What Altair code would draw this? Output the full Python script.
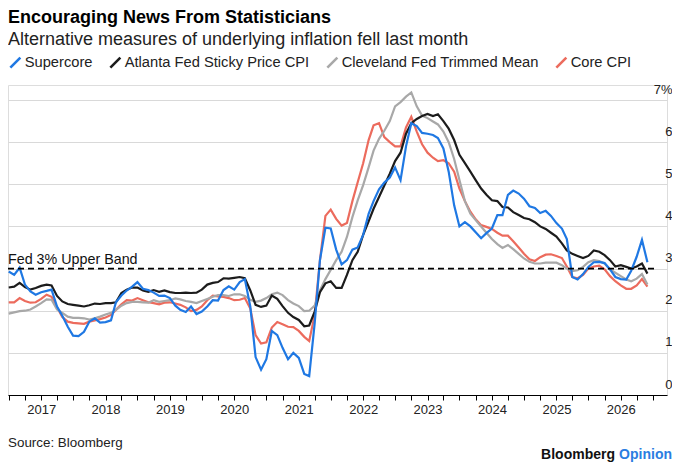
import altair as alt
import pandas as pd

FONT = "Liberation Sans, Arial, sans-serif"

# ---------------- data ----------------
series_names = ["Supercore", "Atlanta Fed Sticky Price CPI",
                "Cleveland Fed Trimmed Mean", "Core CPI"]
series_colors = ["#1f78e3", "#1c1c1c", "#a8a8a8", "#ec6b5d"]
draw_order = ["Core CPI", "Cleveland Fed Trimmed Mean",
              "Atlanta Fed Sticky Price CPI", "Supercore"]

first_month = "2016-07-01"   # monthly observations, Jul 2016 .. Jun 2026

supercore = [
    2.93, 2.85, 3.02, 2.62, 2.46, 2.38, 2.44, 2.47, 2.50, 2.10,
    1.88, 1.62, 1.41, 1.40, 1.50, 1.74, 1.82, 1.72, 1.73, 1.77,
    2.20, 2.36, 2.48, 2.57, 2.68, 2.52, 2.49, 2.43, 2.35, 2.36,
    2.30, 2.12, 2.02, 1.97, 2.10, 1.92, 1.98, 2.10, 2.25, 2.24,
    2.49, 2.58, 2.50, 2.68, 2.75, 2.10, 0.90, 0.60, 0.85, 1.52,
    1.42, 1.12, 0.85, 1.00, 0.88, 0.50, 0.45, 1.70, 3.20, 3.97,
    3.95, 3.45, 3.10, 3.20, 3.45, 3.50, 3.80, 4.30, 4.60, 4.88,
    5.04, 5.16, 5.40, 5.10, 5.90, 6.45, 6.38, 6.22, 6.20, 6.17,
    6.10, 5.85, 5.30, 4.50, 4.00, 4.10, 4.00, 3.86, 3.72, 3.84,
    3.95, 4.27, 4.27, 4.75, 4.85, 4.78, 4.66, 4.48, 4.44, 4.32,
    4.37, 4.25, 4.08, 3.95, 3.70, 2.80, 2.74, 2.87, 3.04, 3.15,
    3.16, 3.13, 2.98, 2.80, 2.75, 2.74, 2.95, 3.28, 3.68, 3.15,
]
atlanta = [
    2.55, 2.57, 2.66, 2.56, 2.50, 2.54, 2.59, 2.62, 2.60, 2.35,
    2.22, 2.16, 2.14, 2.12, 2.10, 2.13, 2.17, 2.16, 2.18, 2.18,
    2.20, 2.42, 2.50, 2.55, 2.55, 2.48, 2.45, 2.49, 2.45, 2.48,
    2.44, 2.42, 2.42, 2.43, 2.42, 2.43, 2.50, 2.62, 2.66, 2.68,
    2.77, 2.76, 2.78, 2.80, 2.77, 2.48, 2.14, 2.09, 2.12, 2.36,
    2.28, 2.11, 1.95, 1.85, 1.78, 1.63, 1.65, 1.98, 2.44, 2.65,
    2.70, 2.54, 2.54, 2.85, 3.20, 3.40, 3.80, 4.12, 4.42, 4.70,
    4.97, 5.25, 5.55, 5.75, 6.20, 6.45, 6.55, 6.62, 6.67, 6.62,
    6.66, 6.50, 6.32, 6.05, 5.70, 5.50, 5.30, 5.10, 4.90, 4.75,
    4.62, 4.60, 4.46, 4.45, 4.34, 4.27, 4.20, 4.17, 4.10, 4.00,
    3.94, 3.85, 3.76, 3.60, 3.43, 3.35, 3.30, 3.25, 3.30, 3.43,
    3.40, 3.32, 3.20, 3.05, 3.08, 3.04, 3.00, 3.05, 3.12, 2.88,
]
cleveland = [
    1.93, 1.96, 1.99, 2.00, 2.03, 2.10, 2.18, 2.27, 2.26, 2.03,
    1.95, 1.86, 1.83, 1.83, 1.82, 1.79, 1.82, 1.86, 1.91, 1.95,
    2.02, 2.12, 2.18, 2.21, 2.21, 2.20, 2.19, 2.25, 2.21, 2.23,
    2.25, 2.29, 2.27, 2.23, 2.21, 2.18, 2.23, 2.28, 2.33, 2.37,
    2.37, 2.35, 2.39, 2.39, 2.35, 2.26, 2.21, 2.24, 2.30, 2.39,
    2.43, 2.37, 2.25, 2.17, 2.11, 1.99, 2.00, 2.12, 2.48, 2.75,
    2.97, 3.20, 3.40, 3.75, 4.22, 4.62, 4.98, 5.40, 5.80, 6.08,
    6.27, 6.50, 6.85, 6.95, 7.08, 7.18, 6.85, 6.63, 6.57, 6.49,
    6.42, 6.25, 6.00, 5.60, 5.10, 4.60, 4.30, 4.15, 4.00, 3.85,
    3.70, 3.58, 3.49, 3.56, 3.46, 3.35, 3.24, 3.16, 3.12, 3.12,
    3.14, 3.14, 3.14, 3.08, 3.00, 2.94, 2.96, 3.04, 3.15, 3.20,
    3.18, 3.12, 2.98, 2.90, 2.82, 2.74, 2.70, 2.76, 2.87, 2.62,
]
core_cpi = [
    2.20, 2.20, 2.30, 2.23, 2.19, 2.20, 2.28, 2.38, 2.33, 2.08,
    1.85, 1.74, 1.71, 1.70, 1.69, 1.74, 1.77, 1.80, 1.84, 1.90,
    2.02, 2.15, 2.25, 2.24, 2.30, 2.25, 2.20, 2.18, 2.15, 2.19,
    2.20, 2.17, 2.14, 2.08, 1.99, 2.02, 2.10, 2.25, 2.36, 2.34,
    2.33, 2.30, 2.25, 2.26, 2.30, 2.05, 1.42, 1.22, 1.25, 1.60,
    1.73, 1.68, 1.62, 1.61, 1.52, 1.38, 1.28, 1.90, 3.20, 4.25,
    4.40, 4.18, 4.02, 4.08, 4.60, 5.05, 5.50, 6.05, 6.40, 6.45,
    6.12, 6.00, 5.90, 5.90, 6.35, 6.60, 6.25, 5.95, 5.75, 5.63,
    5.55, 5.57, 5.50, 5.30, 4.90, 4.60, 4.35, 4.17, 4.03, 3.99,
    3.94, 3.85, 3.78, 3.78, 3.65, 3.50, 3.35, 3.22, 3.18, 3.27,
    3.33, 3.34, 3.30, 3.25, 3.05, 2.80, 2.77, 2.85, 3.00, 3.05,
    3.07, 2.98, 2.82, 2.70, 2.60, 2.52, 2.52, 2.60, 2.75, 2.57,
]

band_value = [3]
band_label = ["Fed 3% Upper Band"]
band_start = ["2016-06-27"]
band_end = ["2026-07-15"]

x_domain = ["2016-06-27", "2026-09-20"]
first_tick, last_tick = "2016-07-01", "2026-07-01"   # quarterly ticks
y_ticks = [0, 1, 2, 3, 4, 5, 6, 7]
title_text = "Encouraging News From Statisticians"
subtitle_text = "Alternative measures of underlying inflation fell last month"
source_text = ["Source: Bloomberg"]
brand_text = ["Bloomberg"]
brand_text2 = ["Opinion"]

# ---------------- tables ----------------
dates = pd.date_range(first_month, periods=len(supercore), freq="MS").strftime("%Y-%m-%d").tolist()
values = {"Supercore": supercore, "Atlanta Fed Sticky Price CPI": atlanta,
          "Cleveland Fed Trimmed Mean": cleveland, "Core CPI": core_cpi}
df = pd.DataFrame({
    "date": dates * 4,
    "series": [n for n in series_names for _ in dates],
    "value": [v for n in series_names for v in values[n]],
})
band_df = pd.DataFrame({"start": band_start, "end": band_end,
                        "value": band_value, "label": band_label})


def ms(s):
    return int(pd.Timestamp(s, tz="UTC").value // 10**6)


quarter_ticks = [ms(d) for d in pd.date_range(first_tick, last_tick, freq="QS-JAN")]

x_scale = alt.Scale(domain=[ms(x_domain[0]), ms(x_domain[1])], nice=False)
y_scale = alt.Scale(domain=[0, 7.356], nice=False)

x_axis = alt.Axis(
    values=quarter_ticks, title=None, grid=False,
    labelExpr="utcmonth(datum.value) == 0 ? utcFormat(datum.value, '%Y') : ''",
    labelOverlap=False, labelFlush=False, labelFont=FONT, labelFontSize=13,
    labelColor="#222", labelPadding=3, domainColor="#000", domainWidth=1,
    tickColor="#000", tickWidth=1, tickSize=5,
)
y_axis = alt.Axis(
    orient="right", values=y_ticks, title=None, grid=True, gridColor="#d9d9d9",
    gridWidth=1, ticks=False, domain=False, labelAlign="right", labelPadding=5,
    labelBaseline="alphabetic", labelOffset=-7, labelFlush=False, labelFont=FONT,
    labelFontSize=13, labelColor="#222",
    labelExpr="datum.value == 7 ? '7%' : datum.label",
)

color = alt.Color(
    "series:N",
    scale=alt.Scale(domain=series_names, range=series_colors),
    legend=alt.Legend(
        orient="none", legendX=0, legendY=-30, direction="horizontal", title=None,
        symbolType="M-1,1L1,-1", symbolSize=100, symbolStrokeWidth=2.6,
        labelFont=FONT, labelFontSize=14.7, labelColor="#222", labelLimit=400,
        labelOffset=2, columnPadding=12, padding=0,
    ),
)

X = lambda f: alt.X(f, type="temporal", scale=x_scale, axis=x_axis)
Y = lambda f: alt.Y(f, type="quantitative", scale=y_scale, axis=y_axis)

base = alt.Chart(df)
line_layers = [
    base.transform_filter(alt.datum.series == name)
    .mark_line(strokeWidth=2.2)
    .encode(x=X("date"), y=Y("value"), color=color)
    for name in draw_order
]

band_rule = alt.Chart(band_df).mark_rule(
    color="#000", strokeWidth=1.8, strokeDash=[6, 4]
).encode(x=X("start"), x2="end:T", y=Y("value"))

band_text = alt.Chart(band_df).mark_text(
    align="left", baseline="alphabetic", dy=-5, font=FONT, fontSize=14.3, color="#111"
).encode(x=X("start"), y=Y("value"), text="label:N")

source = alt.Chart(pd.DataFrame({"t": source_text})).mark_text(
    align="left", baseline="alphabetic", font=FONT, fontSize=13.4, color="#222"
).encode(x=alt.value(0), y=alt.value(362), text="t:N")

brand1 = alt.Chart(pd.DataFrame({"t": brand_text})).mark_text(
    align="right", baseline="alphabetic", font=FONT, fontSize=14, fontWeight="bold",
    color="#111"
).encode(x=alt.value(607), y=alt.value(374), text="t:N")

brand2 = alt.Chart(pd.DataFrame({"t": brand_text2})).mark_text(
    align="right", baseline="alphabetic", font=FONT, fontSize=14, fontWeight="bold",
    color="#2a7de1"
).encode(x=alt.value(664), y=alt.value(374), text="t:N")

chart = alt.layer(
    *line_layers, band_rule, band_text, source, brand1, brand2
).properties(
    width=659, height=310,
    autosize=alt.AutoSizeParams(type="none"),
    padding={"left": 0, "top": 77, "right": 5, "bottom": 68},
    title=alt.TitleParams(
        text=title_text, subtitle=subtitle_text, anchor="start", frame="group",
        font=FONT, fontSize=18, fontWeight="bold", color="#000",
        subtitleFont=FONT, subtitleFontSize=18, subtitleColor="#222",
        subtitlePadding=4, offset=6,
    ),
).configure_view(stroke=None).configure(font=FONT)

chart.save("out.html", embed_options={"renderer": "svg", "actions": False})
